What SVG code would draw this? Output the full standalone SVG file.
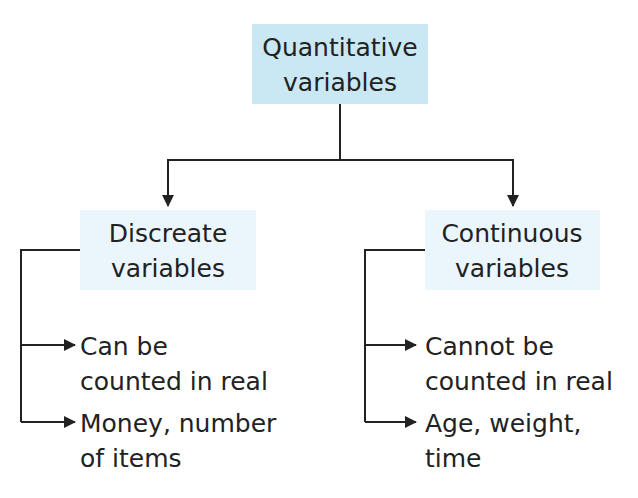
<svg xmlns="http://www.w3.org/2000/svg" width="638" height="498" viewBox="0 0 638 498">
<style>
text{font-family:"DejaVu Sans","Noto Sans",sans-serif;font-size:25px;fill:#222}
.c{text-anchor:middle}
.ln{fill:none;stroke:#222;stroke-width:2}
</style>
<defs><marker id="a" markerWidth="12" markerHeight="12" refX="11" refY="6" orient="auto" markerUnits="userSpaceOnUse"><path d="M0,0L12,6L0,12z" fill="#222"/></marker></defs>
<rect width="638" height="498" fill="#fff"/>
<g id="top"><rect x="252" y="24" width="176" height="80" fill="#c9e8f4"/><text class="c" x="340" y="56">Quantitative</text><text class="c" x="340" y="91">variables</text></g>
<g id="discrete"><rect x="80" y="210" width="176" height="80" fill="#eaf5fc"/><text class="c" x="168" y="242">Discreate</text><text class="c" x="168" y="277">variables</text></g>
<g id="continuous"><rect x="425" y="210" width="175" height="80" fill="#eaf5fc"/><text class="c" x="512" y="242">Continuous</text><text class="c" x="512" y="277">variables</text></g>
<g id="d1"><text x="80" y="355">Can be</text><text x="80" y="390">counted in real</text></g>
<g id="d2"><text x="80" y="432">Money, number</text><text x="80" y="467">of items</text></g>
<g id="c1"><text x="425" y="355">Cannot be</text><text x="425" y="390">counted in real</text></g>
<g id="c2"><text x="425" y="432">Age, weight,</text><text x="425" y="467">time</text></g>
<g id="connectors">
<path class="ln" d="M340,104V160"/>
<path class="ln" d="M168,160H513"/>
<path class="ln" d="M168,159V206" marker-end="url(#a)"/>
<path class="ln" d="M513,159V206" marker-end="url(#a)"/>
<path class="ln" d="M80,250H21V422"/>
<path class="ln" d="M21,345H75" marker-end="url(#a)"/>
<path class="ln" d="M21,422H75" marker-end="url(#a)"/>
<path class="ln" d="M425,250H365V422"/>
<path class="ln" d="M365,345H416" marker-end="url(#a)"/>
<path class="ln" d="M365,422H416" marker-end="url(#a)"/>
</g>
</svg>
